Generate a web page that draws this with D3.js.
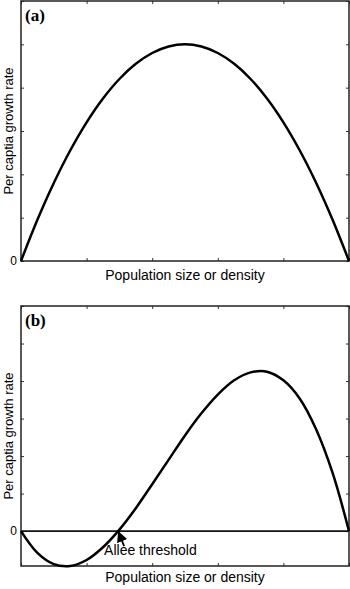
<!DOCTYPE html>
<html><head><meta charset="utf-8">
<script src="https://cdn.jsdelivr.net/npm/d3@7"></script>
<style>body{margin:0;background:#fff}svg{display:block}</style>
</head><body>
<script>
// Data (x: relative population size, y: growth rate in tick units)
const xValues = [0,0.05,0.1,0.15,0.2,0.25,0.3,0.35,0.4,0.45,0.5,0.55,0.6,0.65,0.7,0.75,0.8,0.85,0.9,0.95,1];
const growthA = [0,0.95,1.8,2.55,3.2,3.75,4.2,4.55,4.8,4.95,5,4.95,4.8,4.55,4.2,3.75,3.2,2.55,1.8,0.95,0];
const growthB = [0,-0.58,-0.88,-0.93,-0.77,-0.43,0.04,0.61,1.25,1.9,2.55,3.14,3.64,4.02,4.23,4.25,4.02,3.53,2.71,1.55,0];
const xTicks = [0,0.2,0.4,0.6,0.8,1];
const yTicksA = [0,1,2,3,4,5,6];
const yTicksB = [0,1,2,3,4,5,6];
const panelLabels = ["(a)","(b)"];
const xTitle = "Population size or density";
const yTitle = "Per captia growth rate";
const alleeLabel = "Allee threshold";
const alleeX = 0.296;

const W = 350, H = 589;
const svg = d3.select("body").append("svg").attr("width", W).attr("height", H);
svg.append("defs").append("marker").attr("id","ah").attr("viewBox","0 0 10 10")
  .attr("refX",9).attr("refY",5).attr("markerWidth",6).attr("markerHeight",6).attr("orient","auto-start-reverse")
  .append("path").attr("d","M0,0L10,5L0,10z").attr("fill","#000");

const panels = [
  {top:1, bottom:261, yDom:[0,6], data:growthA, ticks:yTicksA, label:panelLabels[0], xt:280, zero:false},
  {top:306, bottom:566, yDom:[-0.93,6], data:growthB, ticks:yTicksB, label:panelLabels[1], xt:582, zero:true}
];
const L = 21, R = 349;
const sans = "Liberation Sans, Arial, sans-serif";
panels.forEach(p => {
  const x = d3.scaleLinear().domain([0,1]).range([L,R]);
  const y = d3.scaleLinear().domain(p.yDom).range([p.bottom,p.top]);
  const g = svg.append("g");
  const ax = (gen, tr) => {
    const a = g.append("g").attr("transform", tr).call(gen);
    a.select(".domain").remove();
    a.selectAll("text").remove();
    a.selectAll("line").attr("stroke","#333").attr("stroke-width",1);
  };
  ax(d3.axisBottom(x).tickValues(xTicks).tickSize(-3), `translate(0,${p.bottom})`);
  ax(d3.axisTop(x).tickValues(xTicks).tickSize(-3), `translate(0,${p.top})`);
  ax(d3.axisLeft(y).tickValues(p.ticks).tickSize(-3), `translate(${L},0)`);
  ax(d3.axisRight(y).tickValues(p.ticks).tickSize(-3), `translate(${R},0)`);
  g.append("rect").attr("x",L).attr("y",p.top).attr("width",R-L).attr("height",p.bottom-p.top)
    .attr("fill","none").attr("stroke","#222").attr("stroke-width",1.5);
  if (p.zero) {
    g.append("line").attr("x1",L).attr("x2",R).attr("y1",y(0)).attr("y2",y(0))
      .attr("stroke","#111").attr("stroke-width",1.8);
  }
  const line = d3.line().x((d,i)=>x(xValues[i])).y(d=>y(d)).curve(d3.curveCatmullRom);
  g.append("path").datum(p.data).attr("d",line).attr("fill","none").attr("stroke","#000").attr("stroke-width",2.5);
  g.append("text").attr("x",L-4).attr("y",y(0)+4).attr("text-anchor","end")
    .attr("font-family",sans).attr("font-size",12).text("0");
  g.append("text").attr("x",25).attr("y",p.top+20)
    .attr("font-family","Liberation Serif, Times New Roman, serif").attr("font-weight","bold").attr("font-size",17).text(p.label);
  g.append("text").attr("x",(L+R)/2).attr("y",p.xt).attr("text-anchor","middle")
    .attr("font-family",sans).attr("font-size",14).text(xTitle);
  g.append("text").attr("transform",`translate(13,${(p.top+p.bottom)/2}) rotate(-90)`).attr("text-anchor","middle")
    .attr("font-family",sans).attr("font-size",13).text(yTitle);
  if (p.zero) {
    const cx = x(alleeX), cy = y(0);
    g.append("line").attr("x1",cx+6).attr("y1",cy+15).attr("x2",cx+0.5).attr("y2",cy+1)
      .attr("stroke","#000").attr("stroke-width",1.8).attr("marker-end","url(#ah)");
    g.append("text").attr("x",cx-14).attr("y",cy+24)
      .attr("font-family",sans).attr("font-size",14).text(alleeLabel);
  }
});
</script>
</body></html>
